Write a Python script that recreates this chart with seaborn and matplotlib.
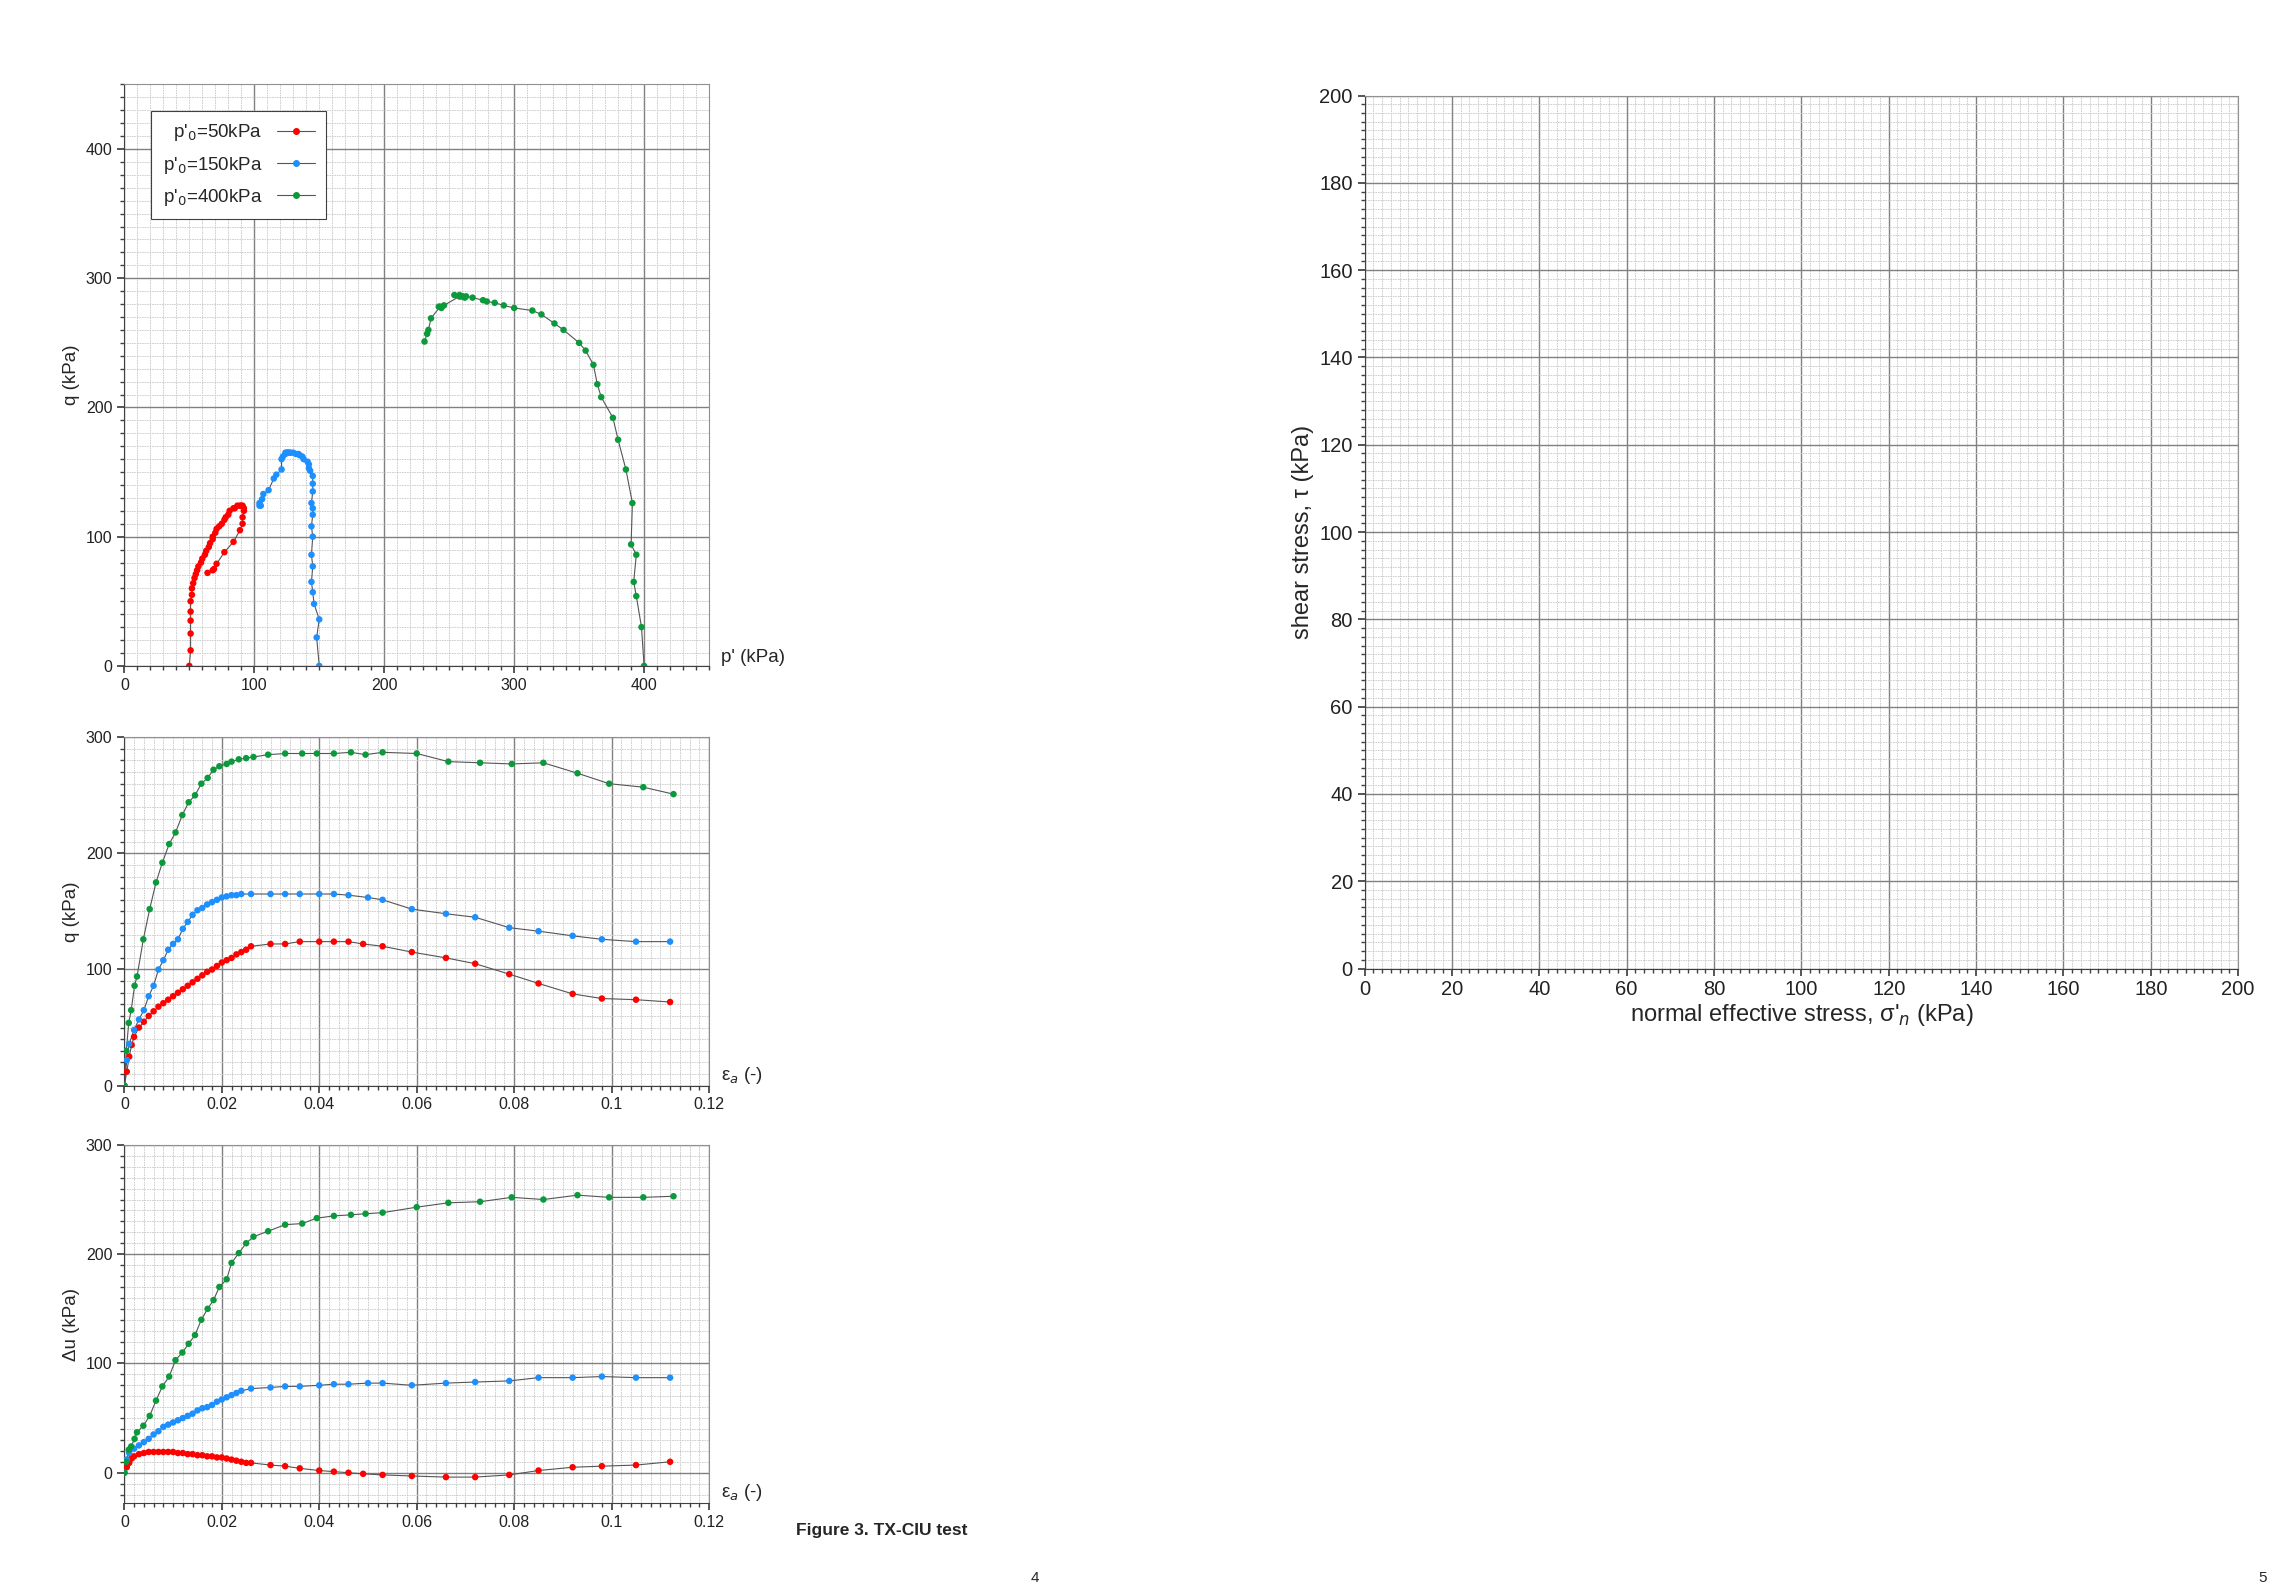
import matplotlib
matplotlib.use("Agg")
import matplotlib.pyplot as plt
import seaborn as sns
import numpy as np
import pandas as pd
from matplotlib.lines import Line2D
from matplotlib.ticker import MultipleLocator

sns.set_theme(style="white")
plt.rcParams['font.family'] = ['Liberation Sans', 'DejaVu Sans']

labels = ["p'$_0$=50kPa", "p'$_0$=150kPa", "p'$_0$=400kPa"]
colors = ["#ff0000", "#1e8fff", "#0b9a3b"]

eps_r = [0,.0005,.001,.0015,.002,.003,.004,.005,.006,.007,.008,.009,.010,.011,.012,.013,.014,.015,.016,.017,
         .018,.019,.020,.021,.022,.023,.024,.025,.026,.030,.033,.036,.040,.043,.046,.049,.053,.059,.066,.072,
         .079,.085,.092,.098,.105,.112]
q_r = [0,12,25,35,42,50,55,60,64,68,71,74,77,80,83,86,89,92,95,98,100,103,106,108,110,113,115,117,120,122,
       122,124,124,124,124,122,120,115,110,105,96,88,79,75,74,72]
du_r = [0,5,9,13,15,17,18,19,19,19,19,19,19,18,18,17,17,16,16,15,15,14,14,13,12,11,10,9,9,7,
        6,4,2,1,0,-1,-2,-3,-4,-4,-2,2,5,6,7,10]
p_r = [50,51,51,51,51,51,52,52,53,54,55,56,57,59,60,62,63,65,66,68,68,70,71,73,75,77,78,80,81,84,
       85,87,89,90,91,92,92,91,91,89,84,77,71,69,68,64]

eps_b = [0,.0005,.001,.002,.003,.004,.005,.006,.007,.008,.009,.010,.011,.012,.013,.014,.015,.016,.017,.018,
         .019,.020,.021,.022,.023,.024,.026,.030,.033,.036,.040,.043,.046,.050,.053,.059,.066,.072,.079,.085,
         .092,.098,.105,.112]
q_b = [0,22,36,48,57,65,77,86,100,108,117,122,126,135,141,147,151,153,156,158,160,162,163,164,164,165,165,165,
       165,165,165,165,164,162,160,152,148,145,136,133,129,126,124,124]
du_b = [0,12,18,22,25,28,31,35,38,42,44,46,48,50,52,54,57,59,60,62,65,67,69,71,73,75,77,78,79,79,80,81,81,82,82,
        80,82,83,84,87,87,88,87,87]
p_b = [150,148,150,146,145,144,145,144,145,144,145,145,144,145,145,145,143,142,142,141,138,137,135,134,132,130,
       128,127,126,126,125,124,124,122,121,121,117,115,111,107,106,104,104,105]

eps_g = [0,.0004,.0009,.0014,.0021,.0026,.0039,.0052,.0065,.0078,.0092,.0105,.0119,.0132,.0145,.0158,.0171,.0183,
         .0195,.021,.022,.0235,.025,.0265,.0295,.033,.0365,.0395,.043,.0465,.0495,.053,.060,.0665,.073,.0795,.086,
         .093,.0995,.1065,.1127]
q_g = [0,30,54,65,86,94,126,152,175,192,208,218,233,244,250,260,265,272,275,277,279,281,282,283,285,286,286,286,
       286,287,285,287,286,279,278,277,278,269,260,257,251]
du_g = [0,10,21,24,31,37,43,52,66,79,88,103,110,118,126,140,150,158,170,177,192,201,210,216,221,227,228,233,235,
        236,237,238,243,247,248,252,250,254,252,252,253]
p_g = [400,398,394,392,394,390,391,386,380,376,367,364,361,355,350,338,331,321,314,300,292,285,279,276,268,263,
       258,260,260,258,262,254,258,246,242,244,243,236,234,233,231]

series = [(eps_r, q_r, du_r, p_r), (eps_b, q_b, du_b, p_b), (eps_g, q_g, du_g, p_g)]

fig = plt.figure(figsize=(22.69, 15.93), dpi=100)
ax1 = fig.add_axes([0.0548, 0.582, 0.2577, 0.365])
ax2 = fig.add_axes([0.0548, 0.3185, 0.2577, 0.2187])
ax3 = fig.add_axes([0.0548, 0.0563, 0.2577, 0.225])
ax4 = fig.add_axes([0.6014, 0.392, 0.385, 0.548])

def style(ax, xmaj, xmin, ymaj, ymin, fs):
    ax.set_facecolor("white")
    ax.xaxis.set_major_locator(MultipleLocator(xmaj))
    ax.xaxis.set_minor_locator(MultipleLocator(xmin))
    ax.yaxis.set_major_locator(MultipleLocator(ymaj))
    ax.yaxis.set_minor_locator(MultipleLocator(ymin))
    ax.grid(which="major", color="#808080", lw=1.0)
    ax.grid(which="minor", color="#c8c8c8", lw=0.6, ls=(0, (2, 1)))
    ax.set_axisbelow(True)
    for s in ax.spines.values():
        s.set_color("#909090"); s.set_linewidth(0.8)
    ax.spines['left'].set_color("#404040")
    ax.spines['bottom'].set_color("#404040")
    ax.tick_params(which="both", direction="out", left=True, bottom=True, colors="#404040",
                   labelcolor="#222222", labelsize=fs)
    ax.tick_params(which="major", length=5)
    ax.tick_params(which="minor", length=3)

def draw(ax, xs, ys, c):
    df = pd.DataFrame({"x": xs, "y": ys})
    sns.lineplot(data=df, x="x", y="y", sort=False, estimator=None, color="#555555", lw=0.8, ax=ax)
    sns.scatterplot(data=df, x="x", y="y", color=c, s=22, edgecolor="none", ax=ax, zorder=3)

for (e, q, du, p), c in zip(series, colors):
    draw(ax1, p, q, c)
    draw(ax2, e, q, c)
    draw(ax3, e, du, c)

style(ax1, 100, 10, 100, 10, 11.5)
ax1.set_xlim(0, 450); ax1.set_ylim(0, 450)
ax1.set_xticks([0, 100, 200, 300, 400]); ax1.set_yticks([0, 100, 200, 300, 400])
ax1.set_xlabel(""); ax1.set_ylabel("q (kPa)", fontsize=13.5)
ax1.text(1.02, 0.0, "p' (kPa)", transform=ax1.transAxes, fontsize=13.5, va="bottom", ha="left")

style(ax2, 0.02, 0.002, 100, 10, 11.5)
ax2.set_xlim(0, 0.12); ax2.set_ylim(0, 300)
ax2.set_xticks([0, 0.02, 0.04, 0.06, 0.08, 0.1, 0.12])
ax2.set_xticklabels(["0", "0.02", "0.04", "0.06", "0.08", "0.1", "0.12"])
ax2.set_xlabel(""); ax2.set_ylabel("q (kPa)", fontsize=13.5)
ax2.text(1.02, 0.0, "ε$_a$ (-)", transform=ax2.transAxes, fontsize=13.5, va="bottom", ha="left")

style(ax3, 0.02, 0.002, 100, 10, 11.5)
ax3.set_xlim(0, 0.12); ax3.set_ylim(-28, 300)
ax3.set_xticks([0, 0.02, 0.04, 0.06, 0.08, 0.1, 0.12])
ax3.set_xticklabels(["0", "0.02", "0.04", "0.06", "0.08", "0.1", "0.12"])
ax3.set_yticks([0, 100, 200, 300])
ax3.set_xlabel(""); ax3.set_ylabel("Δu (kPa)", fontsize=13.5)
ax3.text(1.02, 0.0, "ε$_a$ (-)", transform=ax3.transAxes, fontsize=13.5, va="bottom", ha="left")

handles = [Line2D([], [], color="#555555", lw=0.8, marker="o", markersize=4,
                  markerfacecolor=c, markeredgecolor=c) for c in colors]
leg = ax1.legend(handles, labels, loc="upper left", markerfirst=False, fontsize=13.5,
                 frameon=True, fancybox=False, edgecolor="#404040", framealpha=1,
                 borderpad=0.6, labelspacing=0.6, bbox_to_anchor=(0.03, 0.97))
leg.get_frame().set_linewidth(0.8)

style(ax4, 20, 2, 20, 2, 14.5)
ax4.set_xlim(0, 200); ax4.set_ylim(0, 200)
ax4.set_xlabel("normal effective stress, σ'$_n$ (kPa)", fontsize=17, labelpad=2)
ax4.set_ylabel("shear stress, τ (kPa)", fontsize=17)

fig.text(0.351, 0.0395, "Figure 3. TX-CIU test", fontsize=12.5, fontweight="bold", ha="left", va="center")
fig.text(0.456, 0.005, "4", fontsize=11, ha="center", va="bottom")
fig.text(0.997, 0.005, "5", fontsize=11, ha="center", va="bottom")

fig.savefig("out.png", dpi=100)
